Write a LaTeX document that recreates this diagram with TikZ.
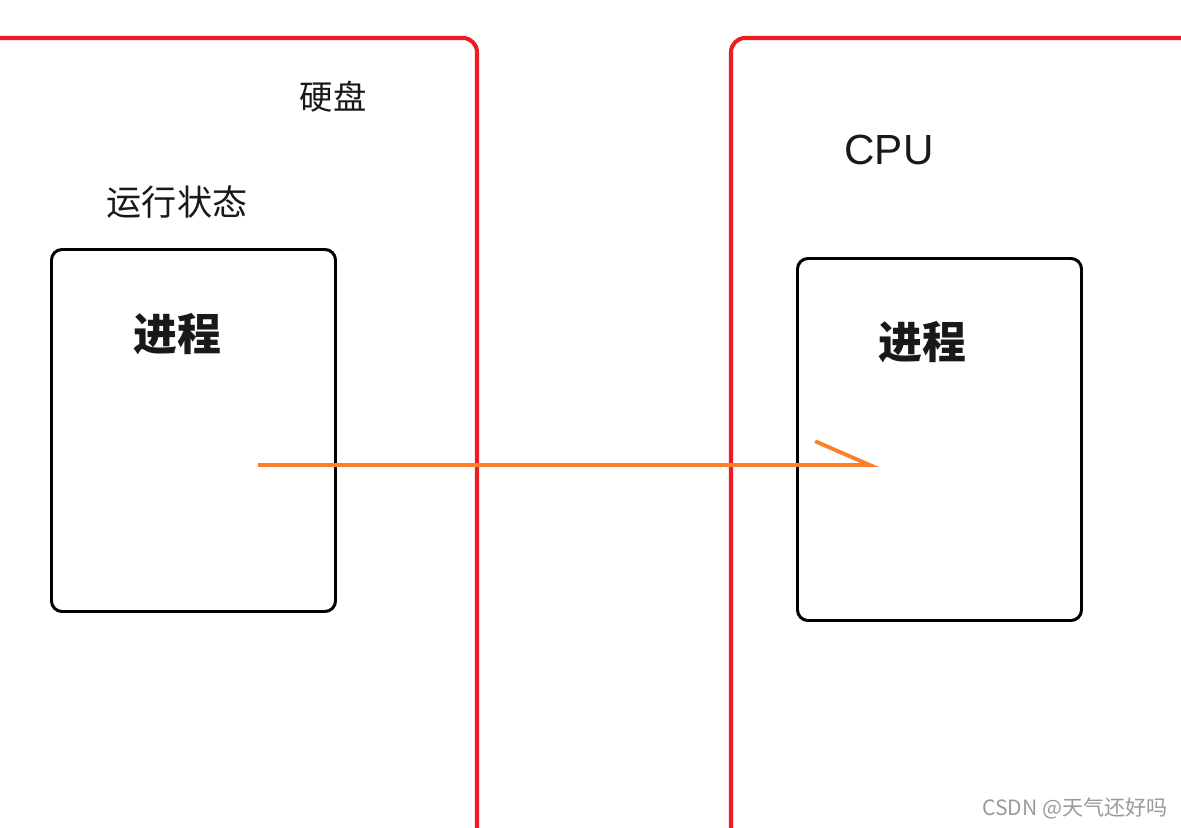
\documentclass[tikz,border=0pt]{standalone}
\usepackage{fontspec}
\newfontfamily\cjk{Noto Sans CJK SC}
\newfontfamily\latinsans{Liberation Sans}
\usetikzlibrary{arrows.meta}
\definecolor{framered}{HTML}{ED1C24}
\definecolor{arroworange}{HTML}{FF7F27}
\definecolor{markgray}{HTML}{9A9A9A}
\begin{document}
\begin{tikzpicture}[x=0.02cm, y=-0.02cm,
    frame/.style={framered, line width=2.3pt, rounded corners=8pt},
    procbox/.style={draw=black, line width=1.7pt, rounded corners=6pt, minimum width=284*0.02cm, minimum height=362*0.02cm, anchor=north west, inner sep=0pt},
    label/.style={font=\cjk, text=black!90}]
        \useasboundingbox (0,0) rectangle (1181,828);

        % --- Khung đỏ: ổ cứng (trái) và CPU (phải) ---
        \draw[frame] (-10,38) -- (477,38) -- (477,840);
        \draw[frame] (731,840) -- (731,38) -- (1191,38);
        \node[label, font=\cjk\fontsize{19}{19}\selectfont] (disk) at (333,97) {硬盘};
        \node[font=\latinsans\fontsize{24}{24}\selectfont, text=black!90] (cpu) at (889,150) {CPU};
        \node[label, font=\cjk\fontsize{20}{20}\selectfont] (state) at (177,202) {运行状态};

        % --- Hai tiến trình ---
        \node[procbox] (leftproc) at (50,248) {};
        \node[procbox] (rightproc) at (796,257) {};
        \node[label, font=\cjk\bfseries\fontsize{25}{25}\selectfont] (leftname) at (177,334) {进程};
        \node[label, font=\cjk\bfseries\fontsize{25}{25}\selectfont] (rightname) at (922,342) {进程};

        % --- Mũi tên chuyển tiến trình ---
        \coordinate (from) at (258,465);
        \coordinate (to) at (879,465);
        \draw[arroworange, line width=2.2pt, -{Straight Barb[harpoon, length=31pt, width=27pt]}] (from) -- (to);

        % --- Watermark ---
        \node[font=\cjk\fontsize{12}{12}\selectfont, text=markgray] (mark) at (1075,808) {CSDN @天气还好吗};
    \end{tikzpicture}
\end{document}
